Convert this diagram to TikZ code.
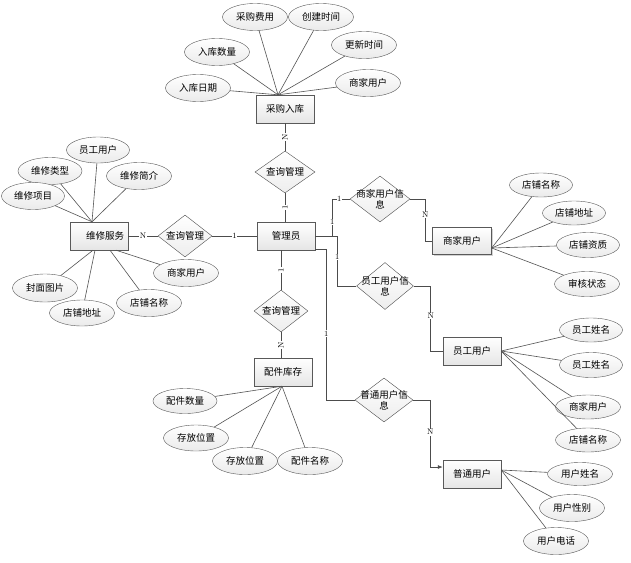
\documentclass[tikz,border=0pt]{standalone}
\usepackage{fontspec}
\newfontfamily\cjk{Noto Sans CJK SC}
\usetikzlibrary{positioning,arrows.meta,shapes.geometric,shadows}

\begin{document}
\begin{tikzpicture}[
        x=1pt, y=-1pt,
        every node/.style={font=\cjk\fontsize{9.5}{11}\selectfont},
        entity/.style={draw=gray!70!black, top color=white, bottom color=gray!20, minimum width=58, minimum height=28, inner sep=0,
            drop shadow={shadow xshift=1.2pt, shadow yshift=-1.2pt, opacity=.35}},
        attr/.style={draw=gray!70!black, ellipse, top color=white, bottom color=gray!16, minimum width=65, minimum height=27, inner sep=0},
        rel/.style={draw=gray!60!black, diamond, top color=white, bottom color=gray!14, inner sep=0},
        card/.style={font=\rmfamily\fontsize{8}{9}\selectfont, fill=white, inner sep=0.6pt},
        attrline/.style={draw=gray!65!black, line width=0.6pt},
        conn/.style={draw=black!70, line width=0.8pt}
    ]
        \fill[white] (0,0) rectangle (631,562);
        \useasboundingbox (0,0) rectangle (631,562);

        % 采购入库
        \node[entity] (cgrk) at (285,109) {采购入库};
        \node[attr] (cgfy) at (255,17) {采购费用};
        \node[attr] (cjsj) at (321,17) {创建时间};
        \node[attr] (rksl) at (217,52) {入库数量};
        \node[attr] (gxsj) at (364,45) {更新时间};
        \node[attr] (rkrq) at (198,88) {入库日期};
        \node[attr] (cgsj) at (368,83) {商家用户};
        \coordinate (cgrk-top) at ([xshift=-7pt]cgrk.north);
        \draw[attrline] (cgfy) -- (cgrk-top);
        \draw[attrline] (cjsj) -- (cgrk-top);
        \draw[attrline] (rksl) -- (cgrk-top);
        \draw[attrline] (gxsj) -- (cgrk-top);
        \draw[attrline] (rkrq) -- (cgrk-top);
        \draw[attrline] (cgsj) -- (cgrk-top);

        % 管理员
        \node[rel, minimum width=60, minimum height=42, label=center:查询管理] (cxgl1) at (285,172) {};
        \node[entity] (gly) at (286,236) {管理员};
        \draw[conn] (cgrk) -- node[card, rotate=90] {N} (cxgl1);
        \draw[conn] (cxgl1) -- node[card, rotate=90] {1} (cxgl1 |- gly.north);

        % 维修服务
        \node[rel, minimum width=54, minimum height=42, label=center:查询管理] (cxgl2) at (185,236) {};
        \node[entity, text width=50, align=right] (wxfw) at (99,236) {维修服务};
        \draw[conn] (wxfw) -- node[card] {N} (cxgl2);
        \draw[conn] (cxgl2) -- node[card] {1} (gly);
        \node[attr, minimum width=63, minimum height=26] (ygyh1) at (98,150) {员工用户};
        \node[attr, minimum width=64] (wxlx) at (50,171) {维修类型};
        \node[attr] (wxjj) at (139,176) {维修简介};
        \node[attr, minimum width=63] (wxxm) at (33,196) {维修项目};
        \node[attr, minimum height=28] (fmtp) at (45,288) {封面图片};
        \node[attr, minimum height=26] (dpdz1) at (82,313) {店铺地址};
        \node[attr] (dpmc1) at (149,303) {店铺名称};
        \node[attr] (sjyh1) at (186,273) {商家用户};
        \coordinate (wxfw-top) at ([xshift=-7pt]wxfw.north);
        \draw[attrline] (ygyh1) -- (wxfw-top);
        \draw[attrline] (wxlx) -- (wxfw-top);
        \draw[attrline] (wxjj) -- (wxfw-top);
        \draw[attrline] (wxxm) -- (wxfw-top);
        \draw[attrline] (fmtp) -- ([xshift=-6pt]wxfw.south);
        \draw[attrline] (dpdz1) -- ([xshift=-4pt]wxfw.south);
        \draw[attrline] (dpmc1) -- ([xshift=11pt]wxfw.south);
        \draw[attrline] (sjyh1) -- ([xshift=17pt]wxfw.south);

        % 配件库存
        \node[rel, minimum width=54, minimum height=42, label=center:查询管理] (cxgl3) at (281,311) {};
        \node[entity] (pjkc) at (283,372) {配件库存};
        \draw[conn] ([xshift=-5pt]gly.south) -- node[card, rotate=90] {1} (cxgl3);
        \draw[conn] (cxgl3) -- node[card, rotate=90] {N} (cxgl3 |- pjkc.north);
        \node[attr, minimum width=64, minimum height=25] (pjsl) at (185,401) {配件数量};
        \node[attr, minimum height=26] (cfwz1) at (196,438) {存放位置};
        \node[attr] (cfwz2) at (245,461) {存放位置};
        \node[attr] (pjmc) at (310,461) {配件名称};
        \coordinate (pjkc-bot) at ([xshift=-1pt]pjkc.south);
        \draw[attrline] (pjsl) -- (pjkc-bot);
        \draw[attrline] (cfwz1) -- (pjkc-bot);
        \draw[attrline] (cfwz2) -- (pjkc-bot);
        \draw[attrline] (pjmc) -- (pjkc-bot);

        % 商家用户
        \node[rel, minimum width=60, minimum height=46, label={[align=center]center:商家用户信\\息}] (d1) at (380,199) {};
        \node[entity, minimum width=59, minimum height=27] (sjyh) at (462,241) {商家用户};
        \draw[conn] (gly.east) -- ++(17,0) |- node[card, pos=0.19] {1} node[card, pos=0.7] {1} (d1.west);
        \draw[conn] (d1.east) -- ++(15,0) |- node[card, pos=0.19] {N} (sjyh.west);
        \node[attr, minimum width=63, minimum height=24] (dpmc2) at (541,185) {店铺名称};
        \node[attr, minimum width=63, minimum height=24] (dpdz2) at (574,213) {店铺地址};
        \node[attr, minimum width=63, minimum height=25] (dpzz) at (588,245) {店铺资质};
        \node[attr, minimum height=25] (shzt) at (587,284) {审核状态};
        \coordinate (sjyh-r) at ([yshift=-7pt]sjyh.east);
        \draw[attrline] (dpmc2) -- (sjyh-r);
        \draw[attrline] (dpdz2) -- (sjyh-r);
        \draw[attrline] (dpzz) -- (sjyh-r);
        \draw[attrline] (shzt) -- (sjyh-r);

        % 员工用户
        \node[rel, minimum width=57, minimum height=47, label={[align=center]center:员工用户信\\息}] (d2) at (385,286) {};
        \node[entity] (ygyh) at (472,351) {员工用户};
        \draw[conn] (gly.east) -- ++(22,0) |- node[card, pos=0.21] {1} (d2.west);
        \draw[conn] (d2.east) -- ++(17,0) |- node[card, pos=0.23] {N} (ygyh.west);
        \node[attr, minimum width=63, minimum height=24] (ygxm1) at (591,330) {员工姓名};
        \node[attr, minimum width=63, minimum height=25] (ygxm2) at (591,365) {员工姓名};
        \node[attr, minimum height=24] (sjyh3) at (588,407) {商家用户};
        \node[attr, minimum height=24] (dpmc3) at (588,440) {店铺名称};
        \draw[attrline] (ygxm1) -- (ygyh.east);
        \draw[attrline] (ygxm2) -- (ygyh.east);
        \draw[attrline] (sjyh3) -- (ygyh.east);
        \draw[attrline] (dpmc3) -- (ygyh.east);

        % 普通用户
        \node[rel, minimum width=58, minimum height=44, label={[align=center]center:普通用户信\\息}] (d3) at (384,400) {};
        \node[entity] (ptyh) at (472,474) {普通用户};
        \draw[conn] ([yshift=1pt]gly.south east) -- ++(11,0) |- node[card, pos=0.28] {1} (d3.west);
        \draw[conn, -{Latex[length=5pt, width=4pt]}] (d3.east) -- ++(17,0) |- node[card, pos=0.24] {N} ([yshift=7pt]ptyh.west);
        \node[attr, minimum height=23] (yhxm) at (580,474) {用户姓名};
        \node[attr] (yhxb) at (572,508) {用户性别};
        \node[attr] (yhdh) at (556,541) {用户电话};
        \coordinate (ptyh-r) at ([yshift=4pt]ptyh.east);
        \draw[attrline] (yhxm) -- (ptyh-r);
        \draw[attrline] (yhxb) -- (ptyh-r);
        \draw[attrline] (yhdh) -- (ptyh-r);
    \end{tikzpicture}
\end{document}
